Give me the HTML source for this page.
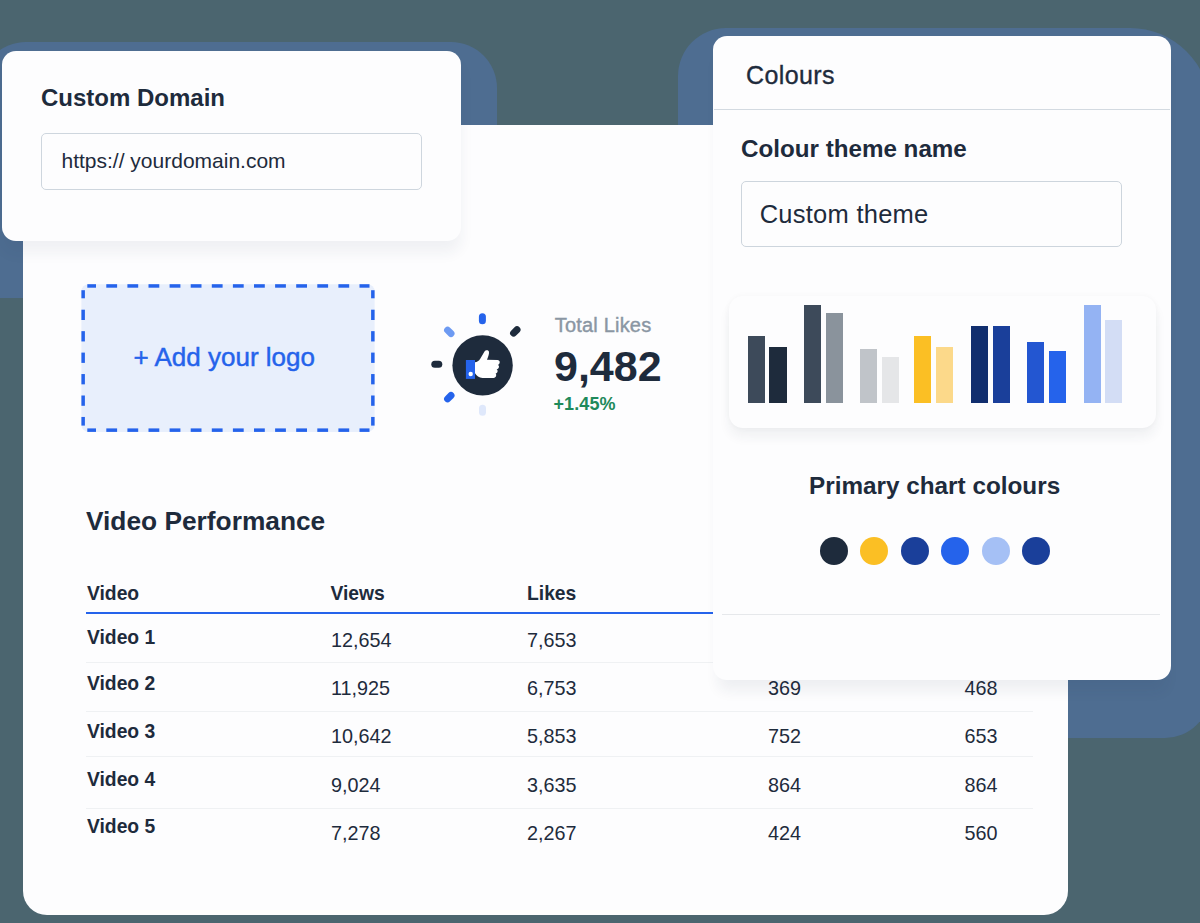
<!DOCTYPE html>
<html><head><meta charset="utf-8">
<style>
*{margin:0;padding:0;box-sizing:border-box}
html,body{width:1200px;height:923px;overflow:hidden}
body{background:#4b656f;position:relative;font-family:"Liberation Sans",sans-serif;color:#1e2b3c}
.a{position:absolute}
.t{position:absolute;white-space:nowrap;line-height:1}
.b{font-weight:bold}
.shadow{position:absolute;background:#4e6d91}
.card{position:absolute;background:#fdfdfe}
</style></head><body>

<!-- shadows -->
<div class="shadow" style="left:-20px;top:42px;width:517px;height:256px;border-radius:46px 46px 46px 8px"></div>
<div class="shadow" style="left:677.5px;top:27.5px;width:532.5px;height:710.5px;border-radius:48px 80px 45px 48px"></div>

<!-- main card -->
<div class="card" style="left:23px;top:125px;width:1045px;height:790px;border-radius:24px">
</div>
<!-- logo box -->
<svg class="a" style="left:0;top:0" width="400" height="440" viewBox="0 0 400 440"><rect x="81.4" y="284.2" width="293.2" height="147.7" rx="7" fill="#e8effc"/><g fill="#2563eb"><rect x="87.30" y="284.20" width="8.70" height="3.50"/><rect x="87.30" y="428.40" width="8.70" height="3.50"/><rect x="106.30" y="284.20" width="10.80" height="3.50"/><rect x="106.30" y="428.40" width="10.80" height="3.50"/><rect x="127.40" y="284.20" width="10.80" height="3.50"/><rect x="127.40" y="428.40" width="10.80" height="3.50"/><rect x="148.50" y="284.20" width="10.80" height="3.50"/><rect x="148.50" y="428.40" width="10.80" height="3.50"/><rect x="169.60" y="284.20" width="10.80" height="3.50"/><rect x="169.60" y="428.40" width="10.80" height="3.50"/><rect x="190.70" y="284.20" width="10.80" height="3.50"/><rect x="190.70" y="428.40" width="10.80" height="3.50"/><rect x="211.80" y="284.20" width="10.80" height="3.50"/><rect x="211.80" y="428.40" width="10.80" height="3.50"/><rect x="232.90" y="284.20" width="10.80" height="3.50"/><rect x="232.90" y="428.40" width="10.80" height="3.50"/><rect x="254.00" y="284.20" width="10.80" height="3.50"/><rect x="254.00" y="428.40" width="10.80" height="3.50"/><rect x="275.10" y="284.20" width="10.80" height="3.50"/><rect x="275.10" y="428.40" width="10.80" height="3.50"/><rect x="296.20" y="284.20" width="10.80" height="3.50"/><rect x="296.20" y="428.40" width="10.80" height="3.50"/><rect x="317.30" y="284.20" width="10.80" height="3.50"/><rect x="317.30" y="428.40" width="10.80" height="3.50"/><rect x="338.40" y="284.20" width="10.80" height="3.50"/><rect x="338.40" y="428.40" width="10.80" height="3.50"/><rect x="359.50" y="284.20" width="10.00" height="3.50"/><rect x="359.50" y="428.40" width="10.00" height="3.50"/><rect x="81.40" y="290.20" width="3.50" height="8.10"/><rect x="371.10" y="290.20" width="3.50" height="8.10"/><rect x="81.40" y="309.70" width="3.50" height="10.30"/><rect x="371.10" y="309.70" width="3.50" height="10.30"/><rect x="81.40" y="331.15" width="3.50" height="10.30"/><rect x="371.10" y="331.15" width="3.50" height="10.30"/><rect x="81.40" y="352.60" width="3.50" height="10.30"/><rect x="371.10" y="352.60" width="3.50" height="10.30"/><rect x="81.40" y="374.05" width="3.50" height="10.30"/><rect x="371.10" y="374.05" width="3.50" height="10.30"/><rect x="81.40" y="395.50" width="3.50" height="10.30"/><rect x="371.10" y="395.50" width="3.50" height="10.30"/><rect x="81.40" y="416.95" width="3.50" height="8.65"/><rect x="371.10" y="416.95" width="3.50" height="8.65"/></g></svg>
<div class="t" style="left:133.5px;top:344.3px;font-size:26px;color:#2563eb;-webkit-text-stroke:0.45px #2563eb">+ Add your logo</div>

<!-- likes icon -->
<svg class="a" style="left:420px;top:300px" width="130" height="130" viewBox="420 300 130 130">
  <circle cx="482.6" cy="365.4" r="30.2" fill="#1e2b3c"/>
  <g stroke-linecap="round" stroke-width="7" fill="none">
    <line x1="482.4" y1="316.8" x2="482.4" y2="320.8" stroke="#2563eb"/>
    <line x1="447.6" y1="330.1" x2="451" y2="333.5" stroke="#6d9af2"/>
    <line x1="517" y1="329.7" x2="513.6" y2="333.1" stroke="#1e2b3c"/>
    <line x1="434.8" y1="364.2" x2="438.8" y2="364.2" stroke="#1e2b3c"/>
    <line x1="451" y1="395.5" x2="447.6" y2="398.9" stroke="#2563eb"/>
    <line x1="482.5" y1="408.2" x2="482.5" y2="412.2" stroke="#dfe8fb"/>
  </g>
  <rect x="465.9" y="360" width="9.1" height="18.9" fill="#2563eb"/>
  <circle cx="470.7" cy="374" r="2.2" fill="#fff"/>
  <path fill="#fff" d="M475 362.3 C477 362.3 478.8 361 480.4 358.5 L484.5 351.6 C485.5 349.8 488.2 349.6 488.9 351.5 C489.4 353 488.4 356.5 487 359.7 L497.5 359.9 C500.3 360 500.6 363.6 497.8 364.9 C499.6 365.3 499.6 368.6 496.6 369.4 C498.2 369.9 498 372.9 495.6 373.4 C496.8 374.2 496.4 377.8 493.6 377.9 L482.5 377.9 C479 377.9 476.6 375.5 475 373.3 Z"/>
</svg>

<div class="t" style="left:554.7px;top:314.6px;font-size:20px;letter-spacing:0.2px;color:#8a96a3;-webkit-text-stroke:0.4px #8a96a3">Total Likes</div>
<div class="t b" style="left:554px;top:344.9px;font-size:43px;letter-spacing:0px">9,482</div>
<div class="t b" style="left:553.5px;top:394.5px;font-size:18px;letter-spacing:0.1px;color:#1f8a5b">+1.45%</div>

<!-- Video performance -->
<div class="t b" style="left:86px;top:507.8px;font-size:26.3px">Video Performance</div>

<div class="t b" style="left:87px;top:583.7px;font-size:19.3px">Video</div>
<div class="t b" style="left:330.5px;top:583.7px;font-size:19.3px">Views</div>
<div class="t b" style="left:527px;top:583.7px;font-size:19.3px">Likes</div>
<div class="a" style="left:86px;top:612px;width:947px;height:2px;background:#2563eb"></div>

<div class="a" style="left:86px;top:661.5px;width:947px;height:1px;background:#eff1f3"></div>
<div class="a" style="left:86px;top:711px;width:947px;height:1px;background:#eff1f3"></div>
<div class="a" style="left:86px;top:756px;width:947px;height:1px;background:#eff1f3"></div>
<div class="a" style="left:86px;top:807.5px;width:947px;height:1px;background:#eff1f3"></div>

<div class="t b" style="left:87px;top:628.2px;font-size:19.3px">Video 1</div>
<div class="t b" style="left:87px;top:674.4px;font-size:19.3px">Video 2</div>
<div class="t b" style="left:87px;top:721.8px;font-size:19.3px">Video 3</div>
<div class="t b" style="left:87px;top:770.4px;font-size:19.3px">Video 4</div>
<div class="t b" style="left:87px;top:816.8px;font-size:19.3px">Video 5</div>

<div class="t" style="left:331px;top:631.2px;font-size:19.8px">12,654</div>
<div class="t" style="left:331px;top:678.7px;font-size:19.8px">11,925</div>
<div class="t" style="left:331px;top:726.7px;font-size:19.8px">10,642</div>
<div class="t" style="left:331px;top:775.7px;font-size:19.8px">9,024</div>
<div class="t" style="left:331px;top:823.7px;font-size:19.8px">7,278</div>

<div class="t" style="left:527px;top:631.2px;font-size:19.8px">7,653</div>
<div class="t" style="left:527px;top:678.7px;font-size:19.8px">6,753</div>
<div class="t" style="left:527px;top:726.7px;font-size:19.8px">5,853</div>
<div class="t" style="left:527px;top:775.7px;font-size:19.8px">3,635</div>
<div class="t" style="left:527px;top:823.7px;font-size:19.8px">2,267</div>

<div class="t" style="left:768px;top:678.7px;font-size:19.8px">369</div>
<div class="t" style="left:768px;top:726.7px;font-size:19.8px">752</div>
<div class="t" style="left:768px;top:775.7px;font-size:19.8px">864</div>
<div class="t" style="left:768px;top:823.7px;font-size:19.8px">424</div>

<div class="t" style="left:964.5px;top:678.7px;font-size:19.8px">468</div>
<div class="t" style="left:964.5px;top:726.7px;font-size:19.8px">653</div>
<div class="t" style="left:964.5px;top:775.7px;font-size:19.8px">864</div>
<div class="t" style="left:964.5px;top:823.7px;font-size:19.8px">560</div>

<!-- custom domain card -->
<div class="card" style="left:2px;top:51px;width:459px;height:190px;border-radius:14px;box-shadow:0 12px 14px rgba(30,50,80,0.06)">
</div>
<div class="t b" style="left:41px;top:85.7px;font-size:24px">Custom Domain</div>
<div class="a" style="left:41px;top:132.5px;width:381px;height:57px;border:1.7px solid #ced6de;border-radius:5px"></div>
<div class="t" style="left:61.5px;top:149.9px;font-size:21px">https:// yourdomain.com</div>

<!-- colours card -->
<div class="card" style="left:713px;top:36px;width:458px;height:644px;border-radius:14px;box-shadow:0 16px 14px -5px rgba(30,50,80,0.065)"></div>
<div class="t" style="left:746px;top:62.5px;font-size:25px;letter-spacing:0.4px;-webkit-text-stroke:0.35px #1e2b3c">Colours</div>
<div class="a" style="left:714px;top:108.5px;width:456px;height:1.2px;background:#d3dae1"></div>
<div class="t b" style="left:741px;top:137px;font-size:24.2px">Colour theme name</div>
<div class="a" style="left:741px;top:181px;width:380.5px;height:65.5px;border:1.5px solid #cdd5dd;border-radius:5px"></div>
<div class="t" style="left:759.7px;top:202.4px;font-size:25.5px;letter-spacing:0.25px">Custom theme</div>

<!-- chart card -->
<div class="a" style="left:729px;top:296px;width:427px;height:131.5px;border-radius:14px;background:#fdfdfe;box-shadow:0 9px 12px rgba(30,43,60,0.06),0 0 6px rgba(30,43,60,0.035)"></div>
<div class="a" style="left:747.6px;top:336.3px;width:17.2px;height:66.7px;background:#3d4a5a"></div>
<div class="a" style="left:769.4px;top:346.7px;width:17.2px;height:56.3px;background:#1e2b3c"></div>
<div class="a" style="left:803.9px;top:305.3px;width:17.2px;height:97.7px;background:#3d4a5a"></div>
<div class="a" style="left:825.8px;top:313.3px;width:17.2px;height:89.7px;background:#8a939c"></div>
<div class="a" style="left:860.3px;top:349px;width:17.2px;height:54px;background:#c0c4c9"></div>
<div class="a" style="left:882px;top:357.4px;width:17.2px;height:45.6px;background:#e5e6e8"></div>
<div class="a" style="left:914.3px;top:336.3px;width:17.2px;height:66.7px;background:#fbbf24"></div>
<div class="a" style="left:936.2px;top:346.7px;width:17.2px;height:56.3px;background:#fcd98a"></div>
<div class="a" style="left:970.7px;top:326px;width:17.2px;height:77px;background:#112e6e"></div>
<div class="a" style="left:992.5px;top:326px;width:17.2px;height:77px;background:#1a3f9a"></div>
<div class="a" style="left:1027px;top:342.4px;width:17.2px;height:60.6px;background:#2356d1"></div>
<div class="a" style="left:1048.9px;top:350.9px;width:17.2px;height:52.1px;background:#2563eb"></div>
<div class="a" style="left:1083.8px;top:304.9px;width:17.2px;height:98.1px;background:#94b3f3"></div>
<div class="a" style="left:1105.2px;top:319.8px;width:17.2px;height:83.2px;background:#d3ddf5"></div>

<div class="t b" style="left:809px;top:474.4px;font-size:24.3px">Primary chart colours</div>
<div class="a" style="left:819.8px;top:536.8px;width:28px;height:28px;border-radius:50%;background:#1e2b3c"></div>
<div class="a" style="left:860px;top:536.8px;width:28px;height:28px;border-radius:50%;background:#fbbf24"></div>
<div class="a" style="left:900.7px;top:536.8px;width:28px;height:28px;border-radius:50%;background:#1a3f9a"></div>
<div class="a" style="left:941px;top:536.8px;width:28px;height:28px;border-radius:50%;background:#2563eb"></div>
<div class="a" style="left:981.6px;top:536.8px;width:28px;height:28px;border-radius:50%;background:#a5c0f5"></div>
<div class="a" style="left:1022.2px;top:536.8px;width:28px;height:28px;border-radius:50%;background:#1a3f9a"></div>
<div class="a" style="left:722px;top:613.5px;width:438px;height:1.5px;background:#e6e8eb"></div>

</body></html>
